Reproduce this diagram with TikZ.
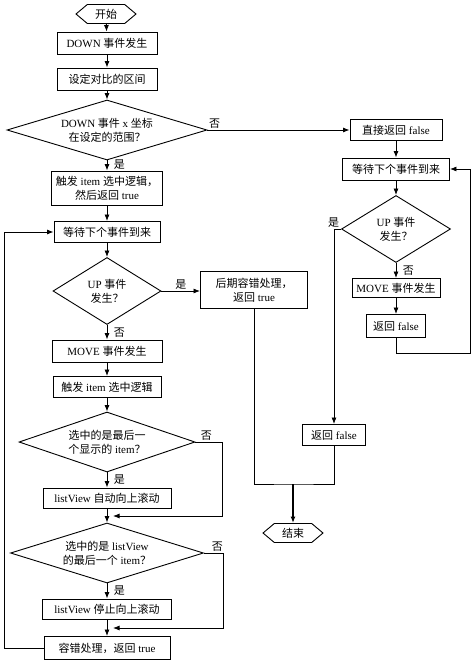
\documentclass[tikz,border=0pt]{standalone}
\usepackage{fontspec}
\setmainfont{Liberation Serif}
\newfontfamily\cjk{Noto Sans CJK SC}
\newcommand\zh[1]{{\cjk #1}}
\usetikzlibrary{shapes.geometric,shapes.symbols,arrows.meta}

\begin{document}
\begin{tikzpicture}[x=1pt,y=-1pt,
    >={Latex[length=6.5pt,width=5pt]},
    every node/.style={font=\fontsize{11}{14}\selectfont},
    block/.style ={rectangle, draw, line width=0.9pt, align=center, inner sep=1pt},
    decision/.style ={diamond, draw, line width=0.9pt, align=center, inner sep=0pt},
    terminal/.style ={signal, signal to=west and east, signal pointer angle=80, draw, line width=0.9pt,
      inner sep=0pt, minimum width=60, minimum height=19},
    flow/.style ={line width=0.8pt},
    tag/.style ={inner sep=1.5pt}]
   \useasboundingbox (0,0) rectangle (474,661);
   \node[terminal] (start)  at (106,14)  {\zh{开始}};
   \node[block, minimum width=100, minimum height=22] (down)  at (107,43)  {DOWN \zh{事件发生}};
   \node[block, minimum width=100, minimum height=22] (range)  at (107,79)  {\zh{设定对比的区间}};
   \node[decision, aspect=3.3, minimum width=200, minimum height=60] (inrange)  at (107,130)  {DOWN \zh{事件} x \zh{坐标}\\\zh{在设定的范围？}};
   \node[block, minimum width=111, minimum height=34] (trig1)  at (107,188)  {\zh{触发} item \zh{选中逻辑，}\\\zh{然后返回} true};
   \node[block, minimum width=106, minimum height=21] (waitL)  at (107,232)  {\zh{等待下个事件到来}};
   \node[decision, aspect=1.6, minimum width=108, minimum height=67] (upL)  at (107,291)  {UP \zh{事件}\\\zh{发生？}};
   \node[block, minimum width=110, minimum height=22] (moveL)  at (107,351)  {MOVE \zh{事件发生}};
   \node[block, minimum width=108, minimum height=21] (trig2)  at (107,387)  {\zh{触发} item \zh{选中逻辑}};
   \node[decision, aspect=2.9, minimum width=176, minimum height=60] (last1)  at (107,442)  {\zh{选中的是最后一}\\\zh{个显示的} item\zh{？}};
   \node[block, minimum width=128, minimum height=20] (scroll)  at (107,498)  {listView \zh{自动向上滚动}};
   \node[decision, aspect=3.2, minimum width=193, minimum height=60] (last2)  at (107,553)  {\zh{选中的是} listView\\\zh{的最后一个} item\zh{？}};
   \node[block, minimum width=129, minimum height=20] (stopscroll)  at (107,609)  {listView \zh{停止向上滚动}};
   \node[block, minimum width=126, minimum height=23] (fault)  at (107,648)  {\zh{容错处理，返回} true};
   \node[block, minimum width=107, minimum height=37] (late)  at (254,290)  {\zh{后期容错处理，}\\\zh{返回} true};
   \node[block, minimum width=92, minimum height=21] (ret1)  at (396,130)  {\zh{直接返回} false};
   \node[block, minimum width=107, minimum height=22] (waitR)  at (396,169)  {\zh{等待下个事件到来}};
   \node[decision, aspect=1.6, minimum width=109, minimum height=67] (upR)  at (396,229)  {UP \zh{事件}\\\zh{发生？}};
   \node[block, minimum width=88, minimum height=19] (moveR)  at (396,288)  {MOVE \zh{事件发生}};
   \node[block, minimum width=59, minimum height=23] (retR)  at (396,326)  {\zh{返回} false};
   \node[block, minimum width=63, minimum height=21] (retM)  at (334,435)  {\zh{返回} false};
   \node[terminal] (finish)  at (293,533)  {\zh{结束}};
   \coordinate (m1) at (113,516);
   \coordinate (m2) at (113,628);
   \coordinate (rb) at (470,353);
   \coordinate (mg) at (293,484);
   \draw[flow, ->] (start) -- (down);
   \draw[flow, ->] (down) -- (range);
   \draw[flow, ->] (range) -- (inrange);
   \draw[flow, ->] (inrange) -- node[tag, right=5pt, pos=0.4] {\zh{是}} (trig1);
   \draw[flow, ->] (inrange.east) -- node[tag, above, pos=0.05] {\zh{否}} (ret1.west);
   \draw[flow, ->] (trig1) -- (waitL);
   \draw[flow, ->] (waitL) -- (upL);
   \draw[flow, ->] (upL.east) -- node[tag, above] {\zh{是}} (upL.east -| late.west);
   \draw[flow, ->] (upL) -- node[tag, right=5pt] {\zh{否}} (moveL);
   \draw[flow, ->] (moveL) -- (trig2);
   \draw[flow, ->] (trig2) -- (last1);
   \draw[flow, ->] (last1) -- node[tag, right=5pt] {\zh{是}} (scroll);
   \draw[flow, ->] (last1.east) -- node[tag, above, pos=0.4] {\zh{否}} ++(27,0) |- (m1);
   \draw[flow, ->] (scroll) -- (last2);
   \draw[flow, ->] (last2) -- node[tag, right=5pt] {\zh{是}} (stopscroll);
   \draw[flow, ->] (last2.east) -- node[tag, above, pos=0.7] {\zh{否}} ++(19,0) |- (m2);
   \draw[flow, ->] (stopscroll) -- (fault);
   \draw[flow, ->] (fault.west) -- ++(-39,0) |- (waitL.west);
   \draw[flow, ->] (ret1) -- (waitR);
   \draw[flow, ->] (waitR) -- (upR);
   \draw[flow, ->] (upR) -- node[tag, right=5pt] {\zh{否}} (moveR);
   \draw[flow, ->] (moveR) -- (retR);
   \draw[flow, ->] (retR.south) |- (rb) |- (waitR.east);
   \draw[flow, ->] (upR.west) node[tag, above left] {\zh{是}} -| (retM.north);
   \draw[flow] (late.south) |- (mg) -| (retM.south);
   \draw[line width=1.6pt, ->] (mg) -- (finish);
 \end{tikzpicture}
\end{document}
